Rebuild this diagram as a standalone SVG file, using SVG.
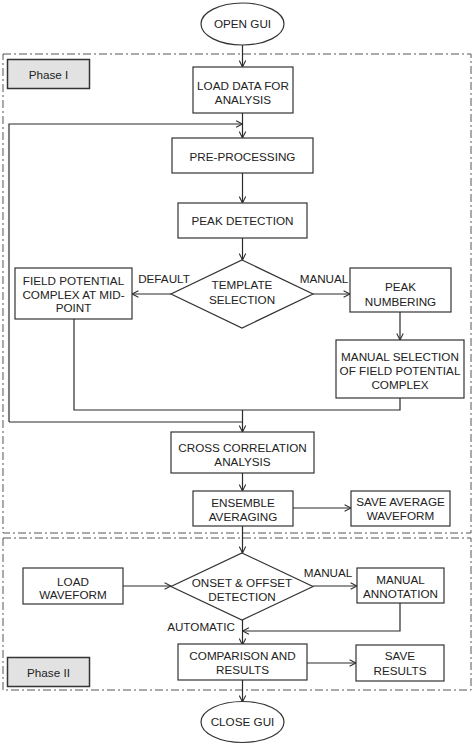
<svg xmlns="http://www.w3.org/2000/svg" width="474" height="746" viewBox="0 0 474 746">
<defs>
<marker id="arr" viewBox="0 0 10 10" refX="9" refY="5" markerWidth="8" markerHeight="8" markerUnits="userSpaceOnUse" orient="auto">
<path d="M1,1 L9,5 L1,9" fill="none" stroke="#2a2a2a" stroke-width="1.3"/>
</marker>
</defs>
<style>
.bg{fill:#ffffff}
.phase{fill:none;stroke:#555;stroke-width:1;stroke-dasharray:8 3 2 3}
.box{fill:#ffffff;stroke:#333;stroke-width:1.2}
.lbl{fill:#e2e2e2;stroke:#333;stroke-width:1.5}
.t{font-family:"Liberation Sans",Arial,sans-serif;font-size:11.7px;fill:#222;text-anchor:middle}
.c{fill:none;stroke:#2a2a2a;stroke-width:1.2}
.a{marker-end:url(#arr)}
</style>
<rect class="bg" x="0" y="0" width="474" height="746"/>
<g id="phase1">
<rect class="phase" x="3" y="54" width="468" height="479"/>
<rect class="lbl" x="7.5" y="59.5" width="82" height="29"/>
<text class="t" x="48.5" y="78.5">Phase I</text>
</g>
<g id="phase2">
<rect class="phase" x="3" y="538" width="468" height="152"/>
<rect class="lbl" x="7.5" y="657.5" width="82" height="29"/>
<text class="t" x="48.5" y="676.5">Phase II</text>
</g>
<g id="connectors">
<path class="c a" d="M242.5,45 V67"/>
<path class="c a" d="M242.5,113 V138"/>
<path class="c a" d="M9,422 V124 H242.5"/>
<path class="c a" d="M242.5,173 V203"/>
<path class="c a" d="M242.5,238 V260"/>
<path class="c a" d="M171,294 H132"/>
<path class="c a" d="M313,294 H350"/>
<path class="c a" d="M400,312 V340"/>
<path class="c" d="M74,319 V410 H400 V398"/>
<path class="c" d="M9,422 H242.5"/>
<path class="c a" d="M242.5,410 V432"/>
<path class="c a" d="M242.5,473 V491"/>
<path class="c a" d="M293,508 H351"/>
<path class="c a" d="M242.5,526 V553"/>
<path class="c a" d="M123,586 H171"/>
<path class="c a" d="M313,586 H357"/>
<path class="c a" d="M400,603 V631 H242.5"/>
<path class="c a" d="M242.5,620 V645"/>
<path class="c a" d="M307,663 H356"/>
<path class="c a" d="M242.5,680 V702"/>
<text class="t" x="164" y="283">DEFAULT</text>
<text class="t" x="324" y="283">MANUAL</text>
<text class="t" x="328" y="577">MANUAL</text>
<text class="t" x="201" y="631">AUTOMATIC</text>
</g>
<g id="open_gui">
<ellipse class="box" cx="242.5" cy="24" rx="41.5" ry="21"/>
<text class="t" x="242.5" y="28">OPEN GUI</text>
</g>
<g id="load_data">
<rect class="box" x="193" y="67" width="100" height="46"/>
<text class="t" x="243" y="90">LOAD DATA FOR</text>
<text class="t" x="243" y="104">ANALYSIS</text>
</g>
<g id="preprocessing">
<rect class="box" x="172" y="138" width="141" height="35"/>
<text class="t" x="242.5" y="161">PRE-PROCESSING</text>
</g>
<g id="peak_detection">
<rect class="box" x="178" y="203" width="129" height="35"/>
<text class="t" x="242.5" y="225">PEAK DETECTION</text>
</g>
<g id="template_selection">
<polygon class="box" points="242,260 313,294 242,328 171,294"/>
<text class="t" x="242" y="289">TEMPLATE</text>
<text class="t" x="242" y="304">SELECTION</text>
</g>
<g id="field_potential_mid">
<rect class="box" x="15" y="268" width="117" height="51"/>
<text class="t" x="73.5" y="285">FIELD POTENTIAL</text>
<text class="t" x="73.5" y="299">COMPLEX AT MID-</text>
<text class="t" x="73.5" y="312">POINT</text>
</g>
<g id="peak_numbering">
<rect class="box" x="350" y="268" width="101" height="44"/>
<text class="t" x="400.5" y="291">PEAK</text>
<text class="t" x="400.5" y="306">NUMBERING</text>
</g>
<g id="manual_selection">
<rect class="box" x="336" y="340" width="128" height="58"/>
<text class="t" x="400" y="361">MANUAL SELECTION</text>
<text class="t" x="400" y="375">OF FIELD POTENTIAL</text>
<text class="t" x="400" y="389">COMPLEX</text>
</g>
<g id="cross_correlation">
<rect class="box" x="171" y="432" width="143" height="41"/>
<text class="t" x="242.5" y="452">CROSS CORRELATION</text>
<text class="t" x="242.5" y="466">ANALYSIS</text>
</g>
<g id="ensemble_averaging">
<rect class="box" x="193" y="491" width="100" height="35"/>
<text class="t" x="243" y="507">ENSEMBLE</text>
<text class="t" x="243" y="521">AVERAGING</text>
</g>
<g id="save_average">
<rect class="box" x="351" y="491" width="99" height="35"/>
<text class="t" x="400.5" y="506">SAVE AVERAGE</text>
<text class="t" x="400.5" y="520">WAVEFORM</text>
</g>
<g id="onset_offset">
<polygon class="box" points="242,553 313,586.5 242,620 171,586.5"/>
<text class="t" x="242" y="587">ONSET &amp; OFFSET</text>
<text class="t" x="242" y="601">DETECTION</text>
</g>
<g id="load_waveform">
<rect class="box" x="23" y="568" width="100" height="36"/>
<text class="t" x="73" y="586">LOAD</text>
<text class="t" x="73" y="599">WAVEFORM</text>
</g>
<g id="manual_annotation">
<rect class="box" x="357" y="568" width="87" height="35"/>
<text class="t" x="400.5" y="584">MANUAL</text>
<text class="t" x="400.5" y="598">ANNOTATION</text>
</g>
<g id="comparison">
<rect class="box" x="178" y="644" width="129" height="36"/>
<text class="t" x="242.5" y="660">COMPARISON AND</text>
<text class="t" x="242.5" y="674">RESULTS</text>
</g>
<g id="save_results">
<rect class="box" x="356" y="645" width="88" height="36"/>
<text class="t" x="400" y="660">SAVE</text>
<text class="t" x="400" y="675">RESULTS</text>
</g>
<g id="close_gui">
<ellipse class="box" cx="242.5" cy="722" rx="41.5" ry="20.5"/>
<text class="t" x="242.5" y="726">CLOSE GUI</text>
</g>
</svg>
